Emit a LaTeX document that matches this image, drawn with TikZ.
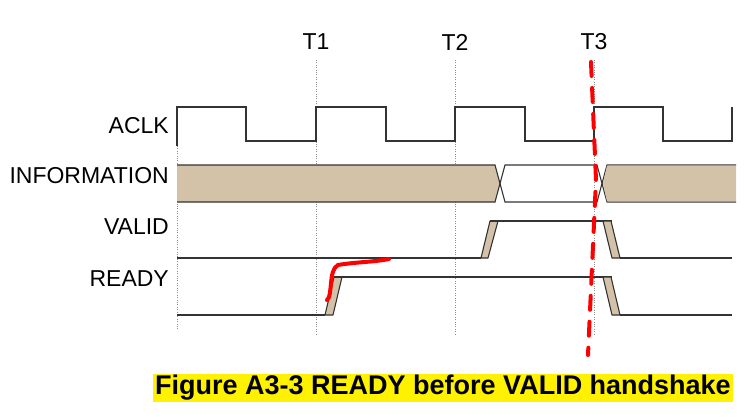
\documentclass[tikz,border=0pt]{standalone}
\usepackage{fontspec}
\setmainfont{Liberation Sans}
\usepackage{xcolor}
\definecolor{bandtan}{RGB}{212,194,168}

\begin{document}
\begin{tikzpicture}[x=1pt,y=-1pt,
    sig/.style={draw=black!80,line width=1.1pt},
    band/.style={fill=bandtan,draw=black!80,line width=1.1pt,line join=round},
    lbl/.style={font=\fontsize{23}{24}\selectfont,anchor=east,inner sep=0pt},
    tick/.style={font=\fontsize{23}{24}\selectfont,inner sep=0pt},
    redmark/.style={red,line width=4pt,line cap=round}]
    \useasboundingbox (0,0) rectangle (756,416);

    % time markers
    \foreach \x/\t in {316/T1,455/T2,594/T3} {
        \node[tick] (\t) at (\x,42) {\t};
        \draw[black!45,dotted] (\x,60) -- (\x,335);
    }
    \draw[black!45,dotted] (177,146) -- (177,330);

    % signal names
    \node[lbl] (aclk) at (169,126) {ACLK};
    \node[lbl] (info) at (169,176) {INFORMATION};
    \node[lbl] (valid) at (169,227) {VALID};
    \node[lbl] (ready) at (169,279) {READY};

    % clock
    \draw[sig] (177,146) -- (177,107) -- (246,107) -- (246,141) -- (316,141) -- (316,107)
        -- (386,107) -- (386,141) -- (455,141) -- (455,107) -- (525,107) -- (525,141)
        -- (594,141) -- (594,107) -- (663,107) -- (663,141) -- (732,141) -- (732,107);

    % information bus
    \fill[bandtan] (177,165) -- (495,165) -- (500,183) -- (495,202) -- (177,202) -- cycle;
    \draw[sig] (177,165) -- (495,165) -- (505,202) -- (597,202) -- (607,165) -- (736,165);
    \draw[sig] (177,202) -- (495,202) -- (505,165) -- (597,165) -- (607,202) -- (736,202);
    \fill[bandtan] (603,183) -- (607,165.6) -- (736,165.6) -- (736,201.4) -- (607,201.4) -- cycle;

    % valid
    \draw[band] (481,258) -- (490,221) -- (498,221) -- (488,258) -- cycle;
    \draw[sig] (177,258) -- (481,258);
    \draw[sig] (490,221) -- (612,221);
    \draw[band] (603,221) -- (611,221) -- (620,258) -- (612,258) -- cycle;
    \draw[sig] (620,258) -- (732,258);

    % ready
    \draw[band] (325,315) -- (334,277) -- (342,277) -- (333,315) -- cycle;
    \draw[sig] (177,315) -- (325,315);
    \draw[sig] (334,277) -- (612,277);
    \draw[band] (603,277) -- (611,277) -- (620,315) -- (612,315) -- cycle;
    \draw[sig] (620,315) -- (732,315);

    % hand-drawn marks
    \draw[redmark,dash pattern=on 14pt off 12pt] (591,62) -- (596,180) -- (588,355);
    \draw[redmark] (327,300) .. controls (333,296) and (328,270) .. (338,265)
        .. controls (355,262) and (375,262) .. (389,259);

    % caption
    \node[fill=yellow,inner xsep=2pt,inner ysep=1pt,font=\bfseries\fontsize{27}{28}\selectfont]
        (cap) at (443,388) {Figure A3-3 READY before VALID handshake};
\end{tikzpicture}
\end{document}
